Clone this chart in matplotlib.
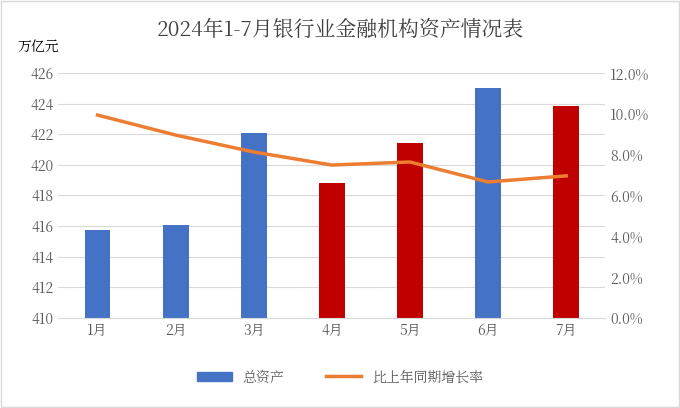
import matplotlib
matplotlib.use("Agg")
import matplotlib.pyplot as plt
from matplotlib import font_manager
from matplotlib.patches import Patch
from matplotlib.lines import Line2D
from matplotlib.ticker import FuncFormatter

cands = [f for f in font_manager.findSystemFonts() if "CJK" in f or "Noto" in f and "Sans" in f]
cjk = [f for f in font_manager.findSystemFonts() if "CJK" in f]
fam = "Noto Sans CJK SC"
if cjk:
    for f in cjk:
        try:
            font_manager.fontManager.addfont(f)
        except Exception:
            pass
    names = [font_manager.FontProperties(fname=f).get_name() for f in cjk]
    fam = "Noto Sans CJK SC" if "Noto Sans CJK SC" in names else names[0]
plt.rcParams["font.family"] = [fam, "DejaVu Sans"]

months = ["1月", "2月", "3月", "4月", "5月", "6月", "7月"]
assets = [415.75, 416.07, 422.05, 418.8, 421.4, 425.05, 423.85]
growth = [9.94, 8.96, 8.13, 7.49, 7.64, 6.66, 6.96]
bar_colors = ["#4472C4", "#4472C4", "#4472C4", "#C00000", "#C00000", "#4472C4", "#C00000"]

fig = plt.figure(figsize=(6.8, 4.08), dpi=100)
ax = fig.add_axes([0.086, 0.221, 0.804, 0.6])
x = range(len(months))
ax.bar(x, assets, width=0.33, color=bar_colors, zorder=2)
ax.set_ylim(410, 426)
ax.set_yticks(range(410, 427, 2))
ax.set_xlim(-0.5, 6.5)
ax.set_xticks(list(x))
ax.set_xticklabels(months)
ax.grid(axis="y", color="#D9D9D9", lw=0.8, zorder=0)
for s in ["top", "right", "left"]:
    ax.spines[s].set_visible(False)
ax.spines["bottom"].set_color("#D9D9D9")
ax.tick_params(length=0, labelsize=10, colors="#595959")

ax2 = ax.twinx()
ax2.plot(list(x), growth, color="#ED7D31", lw=2.5, zorder=3)
ax2.set_ylim(0, 12)
ax2.set_yticks(range(0, 13, 2))
ax2.yaxis.set_major_formatter(FuncFormatter(lambda v, p: f"{v:.1f}%"))
for s in ["top", "right", "left", "bottom"]:
    ax2.spines[s].set_visible(False)
ax2.tick_params(length=0, labelsize=10, colors="#595959")

fig.text(0.5, 0.925, "2024年1-7月银行业金融机构资产情况表", ha="center", va="center",
         fontsize=15, color="#404040")
fig.text(0.025, 0.885, "万亿元", fontsize=10, color="#000000", va="center")

handles = [Patch(color="#4472C4"), Line2D([0], [0], color="#ED7D31", lw=2.5)]
fig.legend(handles, ["总资产", "比上年同期增长率"], loc="center", bbox_to_anchor=(0.5, 0.075),
           ncol=2, frameon=False, fontsize=10, columnspacing=3, handlelength=2.5,
           labelcolor="#595959")
fig.patches.append(plt.Rectangle((0.001, 0.002), 0.997, 0.995, transform=fig.transFigure,
                                 fill=False, edgecolor="#D9D9D9", lw=1))
fig.savefig("out.png", dpi=100)
